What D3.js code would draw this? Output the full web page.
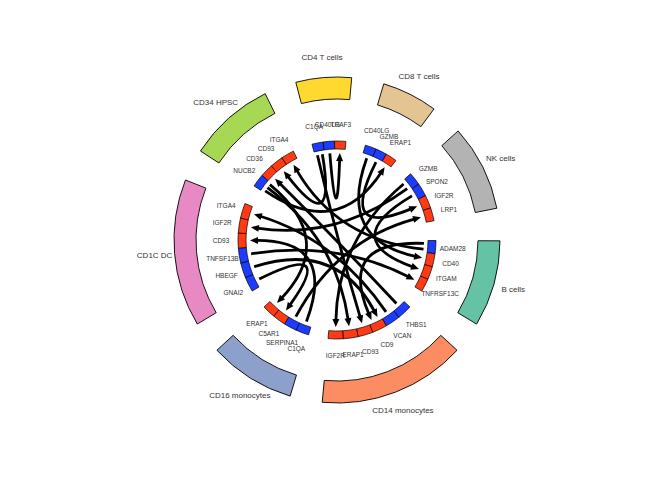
<!DOCTYPE html>
<html><head><meta charset="utf-8">
<script src="https://cdn.jsdelivr.net/npm/d3@7"></script>
<style>body{margin:0;background:#fff}</style>
</head><body>
<svg id="chart" width="672" height="480"></svg>
<script>
// ---------- data ----------
const cellTypes = ["B cells","CD14 monocytes","CD16 monocytes","CD1C DC","CD34 HPSC","CD4 T cells","CD8 T cells","NK cells"];
const cellColors = ["#66C2A5","#FC8D62","#8DA0CB","#E78AC3","#A6D854","#FFD92F","#E5C494","#B3B3B3"];
const genesBCells = ["ADAM28","CD40","ITGAM","TNFRSF13C"];
const genesCD14 = ["THBS1","VCAN","CD9","CD93","ERAP1","IGF2R"];
const genesCD16 = ["C1QA","SERPINA1","C5AR1","ERAP1"];
const genesCD1C = ["GNAI2","HBEGF","TNFSF13B","CD93","IGF2R","ITGA4"];
const genesCD34 = ["NUCB2","CD36","CD93","ITGA4"];
const genesCD4 = ["C1QA","CD40LG","TRAF3"];
const genesCD8 = ["CD40LG","GZMB","ERAP1"];
const genesNK = ["GZMB","SPON2","IGF2R","LRP1"];
const cellGenes = [genesBCells, genesCD14, genesCD16, genesCD1C, genesCD34, genesCD4, genesCD8, genesNK];
const ligandGenes = ["ADAM28","THBS1","VCAN","C1QA","SERPINA1","GNAI2","HBEGF","TNFSF13B","NUCB2","CD40LG","GZMB","SPON2"];
const roleColors = {ligand:"#1d3cff", receptor:"#ff3a14"};

const linkFromCell = ["CD4 T cells","CD8 T cells","NK cells","CD1C DC","CD34 HPSC","CD34 HPSC","CD34 HPSC","CD8 T cells","NK cells","NK cells","CD16 monocytes","CD1C DC","B cells","CD14 monocytes","B cells","CD14 monocytes","CD4 T cells","CD16 monocytes","CD4 T cells","CD1C DC"];
const linkFromGene = ["CD40LG","CD40LG","SPON2","TNFSF13B","NUCB2","NUCB2","NUCB2","GZMB","GZMB","GZMB","SERPINA1","HBEGF","ADAM28","VCAN","ADAM28","THBS1","C1QA","C1QA","C1QA","GNAI2"];
const linkToCell = ["CD4 T cells","B cells","B cells","B cells","CD8 T cells","CD14 monocytes","CD16 monocytes","NK cells","CD14 monocytes","CD1C DC","NK cells","CD14 monocytes","CD14 monocytes","CD1C DC","CD34 HPSC","CD34 HPSC","CD14 monocytes","CD1C DC","CD34 HPSC","CD16 monocytes"];
const linkToGene = ["TRAF3","CD40","ITGAM","TNFRSF13C","ERAP1","ERAP1","ERAP1","IGF2R","IGF2R","IGF2R","LRP1","CD9","CD9","ITGA4","ITGA4","CD36","CD93","CD93","CD93","C5AR1"];

// ---------- layout ----------
const cx = 337, cy = 240;
const startDeg = 90.3, gapDeg = 11.5, perGene = 10.94, sectorOffset = 13;
const geneR0 = 91, geneR1 = 99, cellR0 = 141, cellR1 = 163, linkR = 87;
const geneLabelR = 116, cellLabelR = 183;
const rad = d => d * Math.PI / 180;
const pt = (deg, r) => [cx + r * Math.sin(rad(deg)), cy - r * Math.cos(rad(deg))];

const svg = d3.select("#chart");
svg.append("rect").attr("width",672).attr("height",480).attr("fill","#fff");
const g = svg.append("g");

let a = startDeg;
const sectors = cellTypes.map((c, i) => {
  const n = cellGenes[i].length;
  const w = perGene * n - sectorOffset;
  const s = {cell:c, color:cellColors[i], start:a, end:a + w, genes:cellGenes[i]};
  s.scale = d3.scaleLinear().domain([0, n]).range([s.start, s.end]);
  a += w + gapDeg;
  return s;
});

const genes = [];
sectors.forEach(s => {
  s.genes.forEach((gn, j) => {
    genes.push({cell:s.cell, gene:gn, start:s.scale(j), end:s.scale(j+1),
      role: ligandGenes.includes(gn) ? "ligand" : "receptor", ends:[]});
  });
});
const findGene = (c, gn) => genes.find(d => d.cell === c && d.gene === gn);

const arc = d3.arc();
// outer cell-type ring
g.selectAll("path.cell").data(sectors).join("path")
  .attr("d", d => arc({innerRadius:cellR0, outerRadius:cellR1, startAngle:rad(d.start), endAngle:rad(d.end)}))
  .attr("transform", `translate(${cx},${cy})`)
  .attr("fill", d => d.color).attr("stroke", "#000").attr("stroke-width", 0.9);

g.selectAll("text.cell").data(sectors).join("text")
  .attr("x", d => pt((d.start+d.end)/2, cellLabelR)[0])
  .attr("y", d => pt((d.start+d.end)/2, cellLabelR)[1])
  .attr("text-anchor","middle").attr("dominant-baseline","central")
  .attr("font-family","Liberation Sans, Arial, sans-serif").attr("font-size",8).attr("fill","#333")
  .text(d => d.cell);

// gene ring
g.selectAll("path.gene").data(genes).join("path")
  .attr("d", d => arc({innerRadius:geneR0, outerRadius:geneR1, startAngle:rad(d.start), endAngle:rad(d.end)}))
  .attr("transform", `translate(${cx},${cy})`)
  .attr("fill", d => roleColors[d.role]).attr("stroke", "#000").attr("stroke-width", 0.7);

g.selectAll("text.gene").data(genes).join("text")
  .attr("x", d => pt((d.start+d.end)/2, geneLabelR)[0])
  .attr("y", d => pt((d.start+d.end)/2, geneLabelR)[1])
  .attr("text-anchor","middle").attr("dominant-baseline","central")
  .attr("font-family","Liberation Sans, Arial, sans-serif").attr("font-size",6.5).attr("fill","#333")
  .text(d => d.gene);

// links
const links = linkFromCell.map((c, i) => ({
  src: findGene(c, linkFromGene[i]), tgt: findGene(linkToCell[i], linkToGene[i])
}));
links.forEach((l, i) => { l.src.ends.push({i, side:"s"}); l.tgt.ends.push({i, side:"t"}); });
genes.forEach(gd => {
  const m = gd.ends.length;
  gd.ends.forEach((e, k) => {
    const ang = gd.start + (k + 0.5) / m * (gd.end - gd.start);
    if (e.side === "s") links[e.i].a0 = ang; else links[e.i].a1 = ang;
  });
});

const arrowL = 8, arrowW = 7;
links.forEach(l => {
  const p0 = pt(l.a0, linkR), p2 = pt(l.a1, linkR), c = [cx, cy];
  let dx = p2[0] - c[0], dy = p2[1] - c[1];
  const len = Math.hypot(dx, dy); dx /= len; dy /= len;
  const pe = [p2[0] - dx * (arrowL - 2), p2[1] - dy * (arrowL - 2)];
  const p = d3.path();
  p.moveTo(p0[0], p0[1]);
  p.quadraticCurveTo(c[0], c[1], pe[0], pe[1]);
  g.append("path").attr("d", p.toString()).attr("fill","none")
    .attr("stroke","#000").attr("stroke-width",2.8);
  const b = [p2[0] - dx * arrowL, p2[1] - dy * arrowL];
  const nx = -dy, ny = dx;
  g.append("path")
    .attr("d", `M${p2[0]},${p2[1]}L${b[0]+nx*arrowW/2},${b[1]+ny*arrowW/2}L${b[0]-nx*arrowW/2},${b[1]-ny*arrowW/2}Z`)
    .attr("fill","#000");
});
</script>
</body></html>
